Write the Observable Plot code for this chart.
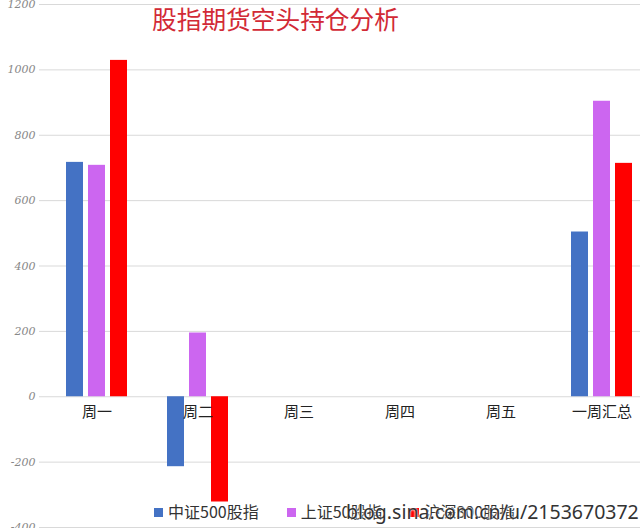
<!DOCTYPE html>
<html>
<head>
<meta charset="utf-8">
<script src="https://cdn.jsdelivr.net/npm/d3@7"></script>
<script src="https://cdn.jsdelivr.net/npm/@observablehq/plot@0.6"></script>
<style>
html, body { margin: 0; padding: 0; overflow: hidden; background: #fff; width: 640px; height: 528px; }
#wrap { position: relative; width: 640px; height: 528px; overflow: hidden; }
#chart svg { max-width: none !important; height: 528px !important; }
#title { position: absolute; left: 152px; top: 0px; font-family: "Noto Sans CJK SC", sans-serif; font-size: 24.7px; color: #d22a36; white-space: nowrap; }
#legend { position: absolute; left: 154px; top: 499px; font-family: "Noto Sans CJK SC", sans-serif; font-size: 16px; color: #333; white-space: nowrap; display: flex; gap: 28px; }
#legend span.sw { display: inline-block; width: 9px; height: 9px; margin-right: 5px; vertical-align: 1px; }
#wm { position: absolute; left: 346px; top: 498px; font-family: "Noto Sans", sans-serif; font-size: 19.5px; color: #333; white-space: nowrap; text-shadow: 0 0 2px #fff, 0 0 2px #fff; }
</style>
</head>
<body>
<div id="wrap">
  <div id="chart"></div>
  <div id="title"></div>
  <div id="legend"></div>
  <div id="wm"></div>
</div>
<script>
const categories = ["周一", "周二", "周三", "周四", "周五", "一周汇总"];
const seriesNames = ["中证500股指", "上证50股指", "沪深300股指"];
const seriesColors = ["#4472C4", "#CC66F0", "#FF0000"];
const zz500 = [717, -214, null, null, null, 504];
const sz50 = [708, 195, null, null, null, 904];
const hs300 = [1029, -322, null, null, null, 714];
const yTicks = [-400, -200, 0, 200, 400, 600, 800, 1000, 1200];
const titleText = "股指期货空头持仓分析";
const watermark = "blog.sina.com.cn/u/2153670372";

const seriesValues = [zz500, sz50, hs300];
const rows = [];
categories.forEach((c, i) => {
  seriesNames.forEach((s, j) => {
    const v = seriesValues[j][i];
    if (v != null) rows.push({category: c, series: s, value: v});
  });
});

const chart = Plot.plot({
  width: 654,
  height: 528,
  marginLeft: 44,
  marginRight: 0,
  marginTop: 4,
  marginBottom: 1,
  facet: {marginTop: 0, marginBottom: 0, marginLeft: 0, marginRight: 0},
  style: {background: "transparent", overflow: "visible"},
  fx: {domain: categories, padding: 0, axis: null},
  x: {domain: seriesNames, paddingInner: 0.244, paddingOuter: 0.88, axis: null},
  y: {domain: [-400, 1200], range: [527, 4], axis: null},
  color: {domain: seriesNames, range: seriesColors},
  marks: [
    Plot.gridY(yTicks, {stroke: "#d9d9d9", strokeOpacity: 1}),
    Plot.axisY(yTicks, {tickSize: 7, stroke: "#d9d9d9", tickPadding: 4, tickFormat: d => String(d), fontSize: 11, fill: "#888", fontStyle: "italic", fontFamily: "DejaVu Serif, serif", anchor: "left", label: null}),
    Plot.barY(rows, {fx: "category", x: "series", y: "value", fill: "series"}),
    Plot.text(categories, {fx: d => d, y: d => 0, text: d => d, dy: 15, fontSize: 15, fill: "#222", fontFamily: "Noto Sans CJK SC, sans-serif"})
  ]
});
document.getElementById("chart").appendChild(chart);

document.getElementById("title").textContent = titleText;
const legend = document.getElementById("legend");
seriesNames.forEach((s, i) => {
  const item = document.createElement("div");
  const sw = document.createElement("span");
  sw.className = "sw";
  sw.style.background = seriesColors[i];
  item.appendChild(sw);
  item.appendChild(document.createTextNode(s));
  legend.appendChild(item);
});
document.getElementById("wm").textContent = watermark;
</script>
</body>
</html>
